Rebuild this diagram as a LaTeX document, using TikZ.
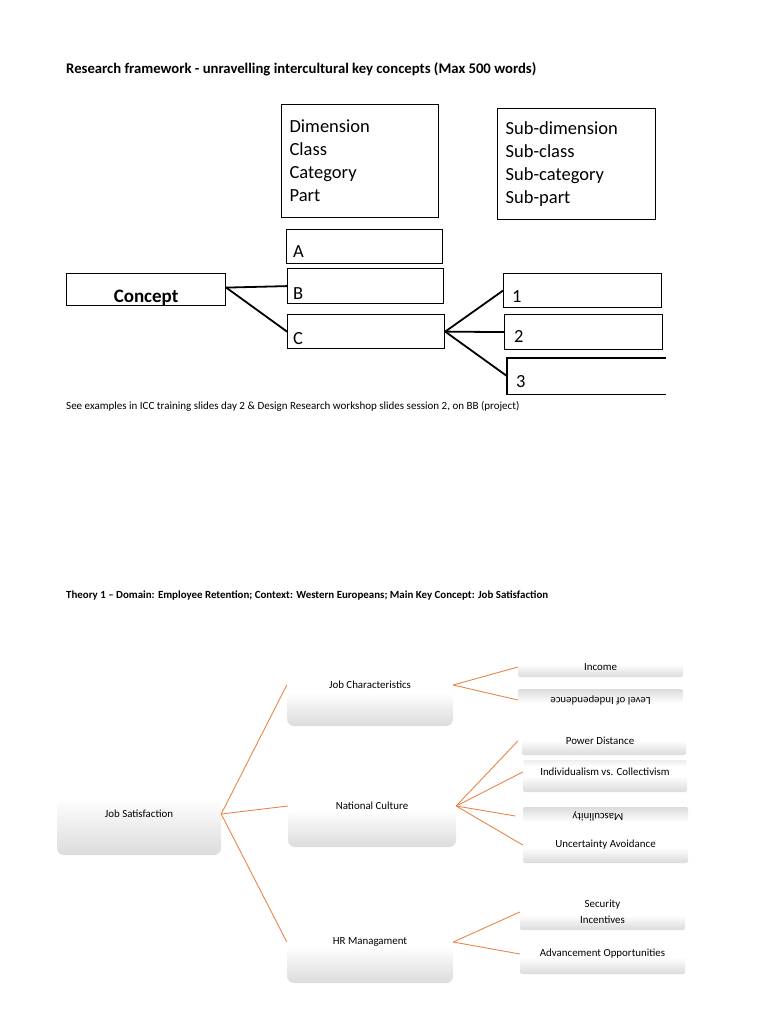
\documentclass[tikz,border=0pt]{standalone}
\usepackage{fontspec}
\setmainfont{Carlito}
\definecolor{orl}{RGB}{234,133,72}
\begin{document}
\begin{tikzpicture}[x=1pt,y=-1pt,
  tb/.style={draw, line width=1.2pt, anchor=north west, inner sep=0pt, inner xsep=8pt, align=left, font=\fontsize{18.5}{23}\selectfont},
  eb/.style={draw, line width=1.2pt, anchor=north west, inner sep=0pt},
  lt/.style={anchor=base west, inner sep=0pt, font=\fontsize{18.5}{22}\selectfont},
  cl/.style={line width=1.8pt, line cap=round},
  gl/.style={inner sep=0pt, font=\fontsize{10.9}{16}\selectfont, align=center},
  ol/.style={draw=orl, line width=0.9pt},
  gshade/.style={top color=white, bottom color=black!14, draw=none},
  gflip/.style={top color=black!14, bottom color=white, draw=none}]
\useasboundingbox (0,0) rectangle (768,1024);

% ---------- top section ----------
\node[anchor=base west, inner sep=0pt, font=\fontsize{14.7}{17}\selectfont\bfseries] (title) at (66,74)
  {Research framework - unravelling intercultural key concepts (Max 500 words)};

\node[tb, minimum width=157, minimum height=113, text width=141] (dim) at (281,104)
  {Dimension\\Class\\Category\\Part};
\node[tb, minimum width=158, minimum height=111, text width=142] (sub) at (497,108)
  {Sub-dimension\\Sub-class\\Sub-category\\Sub-part};

\node[eb, minimum width=156, minimum height=34] (A) at (286,229) {};
\node[eb, minimum width=156, minimum height=35] (B) at (287,268) {};
\node[eb, minimum width=157, minimum height=34] (C) at (287,314) {};
\node[lt] (tA) at ([xshift=7pt,yshift=7pt]A.south west) {A};
\node[lt] (tB) at ([xshift=6pt,yshift=5pt]B.south west) {B};
\node[lt] (tC) at ([xshift=6pt,yshift=5pt]C.south west) {C};

\node[eb, minimum width=159, minimum height=32] (concept) at (66,273) {};
\node[anchor=base, inner sep=0pt, font=\fontsize{19}{22}\selectfont\bfseries] (tconcept)
  at ([yshift=4pt]concept.south) {Concept};

\node[eb, minimum width=158, minimum height=34] (n1) at (503,273) {};
\node[eb, minimum width=158, minimum height=35] (n2) at (504,314) {};
\node[eb, draw=none, minimum width=158, minimum height=35] (n3) at (507,358) {};
\draw[line width=1.2pt] (n3.north east) -- (n3.north west) -- (n3.south west) -- (n3.south east);
\node[lt] (t1) at ([xshift=9pt,yshift=6pt]n1.south west) {1};
\node[lt] (t2) at ([xshift=10pt,yshift=8pt]n2.south west) {2};
\node[lt] (t3) at ([xshift=9pt,yshift=7pt]n3.south west) {3};

\draw[cl] ([yshift=2pt]concept.east) -- (B.west);
\draw[cl] ([yshift=2pt]concept.east) -- (C.west);
\draw[cl] (C.east) -- (n1.west);
\draw[cl] (C.east) -- (n2.west);
\draw[cl] (C.east) -- (n3.west);

\node[anchor=base west, inner sep=0pt, font=\fontsize{11}{13}\selectfont] (note) at (66,409.5)
  {See examples in ICC training slides day 2 \& Design Research workshop slides session 2, on BB (project)};

% ---------- bottom section ----------
\node[anchor=base west, inner sep=0pt, font=\fontsize{10.9}{13}\selectfont\bfseries] (theory) at (66,598.5)
  {Theory 1 – Domain: Employee Retention; Context: Western Europeans; Main Key Concept: Job Satisfaction};

% shaded boxes
\shade[gshade, rounded corners=7pt] (57,798) rectangle (221,855);
\shade[gshade, rounded corners=7pt] (287,692) rectangle (453,726);
\shade[gshade, rounded corners=7pt] (288,810) rectangle (456,847);
\shade[gshade, rounded corners=7pt] (287,946) rectangle (453,983);

\shade[gshade, rounded corners=2pt] (518,664) rectangle (683,677);
\shade[gflip, rounded corners=2pt] (518,689) rectangle (683,703);
\shade[gshade, rounded corners=2pt] (522,740) rectangle (686,755);
\shade[top color=black!7, bottom color=white, rounded corners=2pt] (523,760) rectangle (687,766);
\shade[gshade, rounded corners=2pt] (523,776) rectangle (687,792);
\shade[gflip, rounded corners=2pt] (523,807) rectangle (688,822);
\shade[gshade, rounded corners=2pt] (523,847) rectangle (688,863);
\shade[gshade, rounded corners=2pt] (520,915) rectangle (685,930);
\shade[gshade, rounded corners=2pt] (520,957) rectangle (685,974);

% labels
\node[gl, minimum width=164] (js) at (139,814) {Job Satisfaction};
\node[gl, minimum width=166] (jc) at (370,685) {Job Characteristics};
\node[gl, minimum width=168] (nc) at (372,806) {National Culture};
\node[gl, minimum width=166] (hr) at (370,942) {HR Managament};

\node[gl, minimum width=165] (inc) at (600.5,667) {Income};
\node[gl, minimum width=165, rotate=180] (loi) at (600.5,700) {Level of Independence};
\node[gl, minimum width=164] (pd) at (600,741) {Power Distance};
\node[gl, minimum width=164] (ind) at (605,772) {Individualism vs. Collectivism};
\node[gl, minimum width=165, rotate=180] (mas) at (598,816) {Masculinity};
\node[gl, minimum width=165] (ua) at (605.5,845) {Uncertainty Avoidance};
\node[gl, minimum width=165] (sec) at (602.5,912) {Security\\Incentives};
\node[gl, minimum width=165] (adv) at (602.5,954) {Advancement Opportunities};

% connectors
\draw[ol] (js.east) -- (jc.west);
\draw[ol] (js.east) -- (nc.west);
\draw[ol] (js.east) -- (hr.west);
\draw[ol] (jc.east) -- (inc.west);
\draw[ol] (jc.east) -- (loi.east);
\draw[ol] (nc.east) -- (pd.west);
\draw[ol] (nc.east) -- (ind.west);
\draw[ol] (nc.east) -- (mas.east);
\draw[ol] (nc.east) -- (ua.west);
\draw[ol] (hr.east) -- (sec.west);
\draw[ol] (hr.east) -- (adv.west);
\end{tikzpicture}
\end{document}
